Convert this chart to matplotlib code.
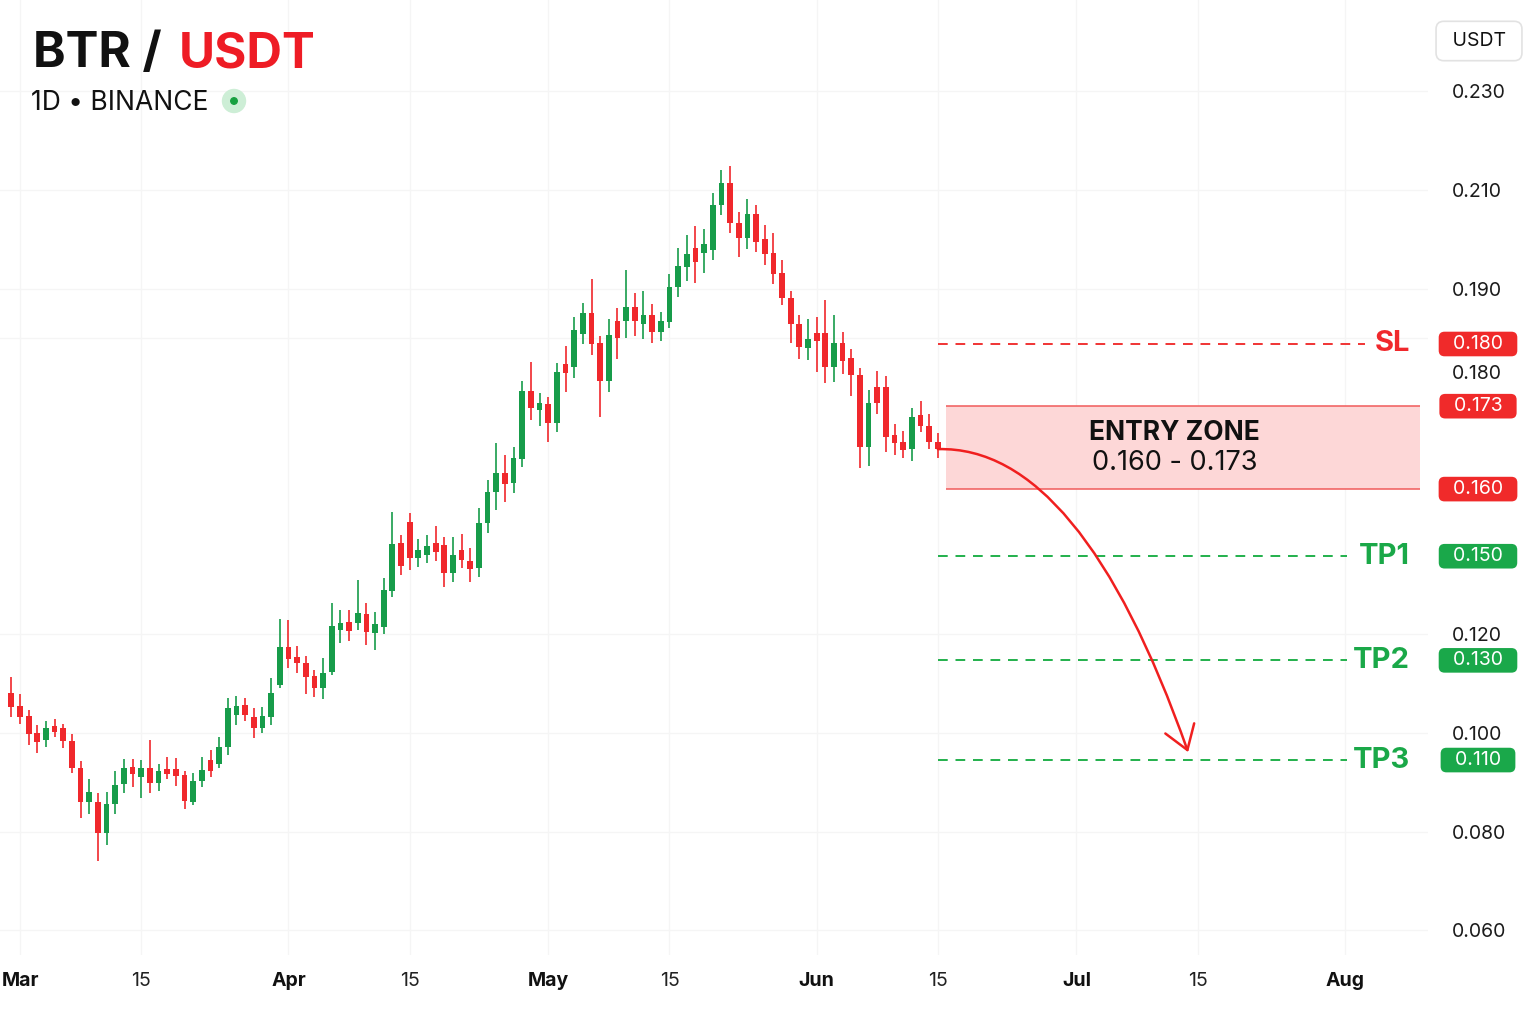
"""BTR/USDT daily candles with entry zone, stop loss and take-profit levels."""
import datetime as dt

import matplotlib
matplotlib.use("Agg")
import matplotlib.pyplot as plt
import matplotlib.dates as mdates
from matplotlib.patches import Rectangle, FancyArrowPatch, Ellipse
from matplotlib.path import Path
from matplotlib.transforms import ScaledTranslation, blended_transform_factory

plt.rcParams["font.family"] = ["Inter", "DejaVu Sans"]

# ---- data ------------------------------------------------------------------
first_day = dt.date(2025, 2, 28)

opens = [.1080, .1054, .1034, .0999, .0985, .1013, .1009, .0983, .0928, .0859,
         .0861, .0797, .0855, .0896, .0930, .0910, .0928, .0898, .0926, .0926,
         .0914, .0861, .0902, .0945, .0938, .0971, .1036, .1056, .1032, .1009,
         .1032, .1097, .1174, .1153, .1141, .1115, .1090, .1123, .1208, .1224,
         .1222, .1240, .1202, .1214, .1287, .1384, .1427, .1354, .1360, .1384,
         .1380, .1324, .1370, .1348, .1334, .1425, .1488, .1526, .1506, .1555,
         .1692, .1654, .1666, .1628, .1747, .1741, .1808, .1851, .1790, .1713,
         .1834, .1834, .1863, .1828, .1846, .1812, .1832, .1903, .1944, .1982,
         .1972, .1978, .2069, .2114, .2033, .2003, .2051, .2001, .1972, .1932,
         .1881, .1828, .1780, .1810, .1810, .1741, .1790, .1759, .1725, .1579,
         .1701, .1701, .1603, .1589, .1575, .1644, .1622, .1589]
highs = [.1113, .1078, .1046, .1017, .1024, .1028, .1019, .0997, .0943, .0906,
         .0878, .0880, .0922, .0947, .0947, .0945, .0985, .0936, .0951, .0949,
         .0922, .0918, .0951, .0965, .0991, .1070, .1074, .1070, .1050, .1052,
         .1111, .1230, .1228, .1176, .1155, .1127, .1151, .1263, .1249, .1249,
         .1309, .1263, .1245, .1313, .1447, .1401, .1445, .1392, .1401, .1419,
         .1397, .1397, .1403, .1374, .1455, .1512, .1587, .1563, .1579, .1713,
         .1751, .1688, .1680, .1749, .1784, .1842, .1871, .1919, .1804, .1838,
         .1861, .1938, .1891, .1895, .1869, .1853, .1930, .1982, .2009, .2027,
         .2021, .2094, .2140, .2149, .2055, .2082, .2069, .2029, .2013, .1958,
         .1895, .1846, .1838, .1842, .1877, .1846, .1812, .1778, .1739, .1695,
         .1733, .1723, .1626, .1611, .1658, .1672, .1646, .1607]
lows = [.1032, .1019, .0975, .0959, .0971, .0991, .0969, .0918, .0827, .0835,
        .0740, .0772, .0835, .0878, .0890, .0869, .0878, .0882, .0906, .0892,
        .0845, .0853, .0890, .0910, .0928, .0955, .1017, .1024, .0989, .0999,
        .1017, .1090, .1131, .1121, .1078, .1072, .1068, .1117, .1182, .1186,
        .1208, .1178, .1167, .1200, .1275, .1320, .1330, .1336, .1344, .1348,
        .1295, .1305, .1334, .1305, .1315, .1405, .1451, .1467, .1486, .1538,
        .1634, .1622, .1589, .1609, .1690, .1719, .1788, .1765, .1640, .1690,
        .1757, .1800, .1804, .1798, .1790, .1794, .1820, .1883, .1915, .1911,
        .1932, .1958, .2049, .2013, .1964, .1980, .1974, .1948, .1909, .1867,
        .1790, .1757, .1755, .1731, .1709, .1711, .1727, .1682, .1536, .1540,
        .1646, .1569, .1563, .1557, .1551, .1609, .1575, .1557]
closes = [.1052, .1032, .0997, .0981, .1009, .1001, .0983, .0928, .0859, .0880,
          .0797, .0855, .0894, .0928, .0916, .0928, .0898, .0922, .0916, .0912,
          .0863, .0902, .0924, .0922, .0971, .1050, .1054, .1036, .1009, .1034,
          .1080, .1174, .1149, .1141, .1113, .1090, .1121, .1216, .1222, .1206,
          .1242, .1204, .1220, .1289, .1382, .1338, .1354, .1370, .1378, .1366,
          .1324, .1360, .1350, .1332, .1425, .1488, .1526, .1504, .1557, .1692,
          .1658, .1668, .1628, .1731, .1729, .1816, .1851, .1788, .1713, .1806,
          .1800, .1863, .1834, .1846, .1812, .1834, .1903, .1946, .1970, .1954,
          .1990, .2069, .2114, .2033, .2003, .2051, .1994, .1970, .1930, .1881,
          .1828, .1782, .1798, .1794, .1741, .1790, .1753, .1725, .1579, .1668,
          .1668, .1599, .1587, .1573, .1640, .1622, .1589, .1575]

# level lines: the badge text is what the picture prints, the price is where
# the line actually sits against the picture's own axis (they disagree there)
level_names = ["SL", "TP1", "TP2", "TP3"]
level_text = ["0.180", "0.150", "0.130", "0.110"]
level_prices = [0.1788, 0.1358, 0.1147, 0.0945]
entry_text = ["0.173", "0.160"]
entry_prices = [0.1662, 0.1494]          # top, bottom of the zone

ytick_vals = [0.060, 0.080, 0.100, 0.120, 0.180, 0.190, 0.210, 0.230]
xtick_dates = [dt.date(2025, 3, 1), dt.date(2025, 3, 15), dt.date(2025, 4, 1),
               dt.date(2025, 4, 15), dt.date(2025, 5, 1), dt.date(2025, 5, 15),
               dt.date(2025, 6, 1), dt.date(2025, 6, 15), dt.date(2025, 7, 1),
               dt.date(2025, 7, 15), dt.date(2025, 8, 1)]
xtick_labels = ["Mar", "15", "Apr", "15", "May", "15", "Jun", "15", "Jul", "15", "Aug"]

RED = "#f0282c"
GREEN = "#179c4a"
BADGE_RED = "#f02a2a"
BADGE_GREEN = "#1aa84a"

W, H = 1536, 1024

# ---- figure ------------------------------------------------------------------
fig = plt.figure(figsize=(W / 100, H / 100), dpi=100)
ax = fig.add_axes([0, 69 / H, 1428 / W, 955 / H])
ax.set_axisbelow(True)

dates = [first_day + dt.timedelta(days=i) for i in range(len(opens))]
x = mdates.date2num(dates)
cols = [GREEN if c >= o else RED for o, c in zip(opens, closes)]
ax.vlines(x, lows, highs, colors=cols, lw=1.2, zorder=3)
ax.bar(x, [max(abs(c - o), 0.0004) for o, c in zip(opens, closes)],
       bottom=[min(o, c) for o, c in zip(opens, closes)],
       width=0.66, color=cols, zorder=4)

m1 = mdates.date2num(dt.date(2025, 3, 1))
ax.set_xlim(m1 - 2.31, m1 + 162.6)
ax.set_ylim(0.0550, 0.2485)

for s in ax.spines.values():
    s.set_visible(False)
ax.grid(True, color="#f5f5f5", lw=1)

ax.set_xticks(mdates.date2num(xtick_dates))
ax.set_xticklabels(xtick_labels)
ax.tick_params(axis="x", length=0, pad=12, labelsize=14, labelcolor="#222222")
for lab in ax.get_xticklabels():
    if not lab.get_text().isdigit():
        lab.set_fontweight("bold")
        lab.set_color("#111111")

ax.yaxis.tick_right()
ax.set_yticks(ytick_vals)
ax.set_yticklabels([f"{v:.3f}" for v in ytick_vals])
ax.tick_params(axis="y", length=0, pad=17, labelsize=14, labelcolor="#1c1c1c")
# the picture pushes its 0.180 label below the SL badge
for tick, v in zip(ax.yaxis.get_major_ticks(), ytick_vals):
    if abs(v - 0.180) < 1e-9:
        tick.label2.set_transform(tick.label2.get_transform()
                                  + ScaledTranslation(0, -0.34, fig.dpi_scale_trans))

mixed = blended_transform_factory(ax.transAxes, ax.transData)
last_x = x[-1]
badge_x = 1478 / 1428


def badge(price, text, color):
    ax.text(badge_x, price, f"  {text}  ", transform=mixed, ha="center", va="center",
            fontsize=14, color="white", zorder=6,
            bbox=dict(boxstyle="round,pad=0.17,rounding_size=0.3", fc=color, ec="none"))


# entry zone
zone_x0 = last_x + 0.9
zone_x1 = m1 + 161.7
ax.add_patch(Rectangle((zone_x0, entry_prices[1]), zone_x1 - zone_x0,
                       entry_prices[0] - entry_prices[1],
                       facecolor="#fdd7d7", edgecolor="none", zorder=1))
ax.hlines(entry_prices, zone_x0, zone_x1, colors="#f05a5a", lw=1.1, zorder=2)
zc = (zone_x0 + zone_x1) / 2
ax.text(zc - 1, 0.1607, "ENTRY ZONE", ha="center", va="center", fontsize=19,
        fontweight="bold", color="#111111", zorder=5)
ax.text(zc - 1, 0.1547, f"{entry_text[1]} - {entry_text[0]}", ha="center",
        va="center", fontsize=19.5, color="#111111", zorder=5)
for p, t in zip(entry_prices, entry_text):
    badge(p, t, BADGE_RED)

# SL / TP lines
for name, txt, p in zip(level_names, level_text, level_prices):
    is_sl = name == "SL"
    line_c = "#f03434" if is_sl else "#22b04c"
    end = m1 + (155.3 if is_sl else 153.2)
    ax.hlines(p, last_x, end, colors=line_c, linestyles=(0, (5, 4)), lw=1.4, zorder=2)
    ax.text(1410 / 1428, p, name, transform=mixed, ha="right", va="center",
            fontsize=21, fontweight="bold", color=RED if is_sl else "#1aa848", zorder=5)
    badge(p, txt, BADGE_RED if is_sl else BADGE_GREEN)

# projected move: from the last close down to TP3
verts = [(last_x, closes[-1]), (m1 + 122.4, 0.1583), (m1 + 134.9, 0.0961)]
arrow = FancyArrowPatch(path=Path(verts, [Path.MOVETO, Path.CURVE3, Path.CURVE3]),
                        arrowstyle="->,head_length=0.75,head_width=0.5",
                        mutation_scale=22, color="#f01f1f", lw=1.8, zorder=5)
ax.add_patch(arrow)

# ---- header ------------------------------------------------------------------
r = fig.canvas.get_renderer()
t1 = fig.text(33 / W, 1 - 67 / H, "BTR /", fontsize=35.5, fontweight="bold",
              color="#111111", va="baseline")
bb = t1.get_window_extent(renderer=r)
fig.text((bb.x1 + 17) / W, 1 - 67 / H, "USDT", fontsize=35.5, fontweight="bold",
         color="#ee1c25", va="baseline")
fig.text(31 / W, 1 - 110 / H, "1D \u2022 BINANCE", fontsize=19, color="#111111",
         va="baseline")
fig.add_artist(Ellipse((234 / W, 1 - 101 / H), 23 / W, 23 / H,
                       transform=fig.transFigure, color="#cdeed6"))
fig.add_artist(Ellipse((234 / W, 1 - 101 / H), 6.5 / W, 6.5 / H,
                       transform=fig.transFigure, color="#17a040"))

fig.text(1479 / W, 1 - 41 / H, " USDT ", ha="center", va="center", fontsize=14,
         color="#111111",
         bbox=dict(boxstyle="round,pad=0.55,rounding_size=0.4", fc="white",
                   ec="#e2e2e2", lw=1.2))

fig.savefig("out.png", dpi=100)
